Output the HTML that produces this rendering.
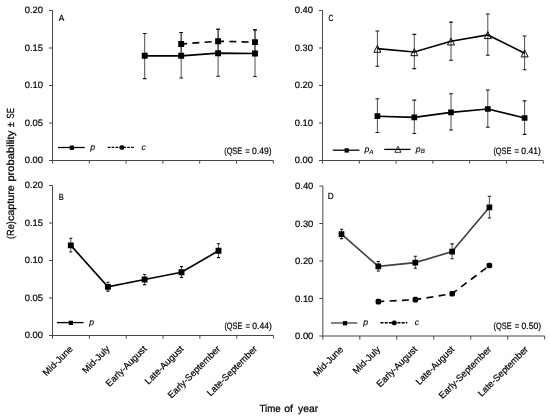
<!DOCTYPE html>
<html lang="en"><head><meta charset="utf-8"><title>(Re)capture probability by time of year</title>
<style>html,body{margin:0;padding:0;background:#fff}svg{display:block}text{text-rendering:geometricPrecision}.t{font-family:"Liberation Sans", sans-serif;font-size:9.3px;fill:#000;stroke:#000;stroke-width:0.2px}.p{font-family:"Liberation Sans", sans-serif;font-size:8.9px;fill:#000;stroke:#000;stroke-width:0.2px}.l{font-family:"Liberation Sans", sans-serif;font-size:10.3px;fill:#000;stroke:#000;stroke-width:0.24px}.i{font-family:"Liberation Sans", sans-serif;font-size:8.6px;font-style:italic;fill:#000;stroke:#000;stroke-width:0.15px}.s{font-family:"Liberation Sans", sans-serif;font-size:6.2px;font-style:italic;fill:#000;stroke:#000;stroke-width:0.1px}</style></head><body>
<svg width="550" height="420" viewBox="0 0 550 420">
<rect width="550" height="420" fill="#fff"/>
<path d="M52.5 10.5V163.7M49 160.5H273.3" fill="none" stroke="#484848" stroke-width="1.0"/>
<text transform="translate(43 13.3) scale(1.01 1)" text-anchor="end" class="t">0.20</text>
<text transform="translate(43 50.8) scale(1.01 1)" text-anchor="end" class="t">0.15</text>
<text transform="translate(43 88.3) scale(1.01 1)" text-anchor="end" class="t">0.10</text>
<text transform="translate(43 125.8) scale(1.01 1)" text-anchor="end" class="t">0.05</text>
<text transform="translate(43 163.3) scale(1.01 1)" text-anchor="end" class="t">0.00</text>
<path d="M49 10.5H52.5M49 48H52.5M49 85.5H52.5M49 123H52.5M89.3 160.5V163.7M126.1 160.5V163.7M162.9 160.5V163.7M199.7 160.5V163.7M236.5 160.5V163.7M273.3 160.5V163.7" fill="none" stroke="#484848" stroke-width="1.0"/>
<text transform="translate(58.85 21.3) scale(0.93 1)" class="p">A</text>
<path d="M144.7 33.5V78.6M181.2 32.5V78M218.1 29.2V76.2M255 29.9V76.5" fill="none" stroke="#303030" stroke-width="0.85"/>
<path d="M142.9 33.5H146.5M142.9 78.6H146.5M179.4 32.5H183M179.4 78H183M216.3 29.2H219.9M216.3 76.2H219.9M253.2 29.9H256.8M253.2 76.5H256.8" fill="none" stroke="#111" stroke-width="1.1"/>
<path d="M181.2 32.5V56M218.1 29.2V54M255 29.9V54" fill="none" stroke="#303030" stroke-width="0.85"/>
<path d="M179.4 32.5H183M179.4 56H183M216.3 29.2H219.9M216.3 54H219.9M253.2 29.9H256.8M253.2 54H256.8" fill="none" stroke="#111" stroke-width="1.1"/>
<path d="M181.2 44L218.1 41.3M218.1 41.3L255 42.1" fill="none" stroke="#000" stroke-width="1.65" stroke-dasharray="7 5.3" stroke-dashoffset="1.1"/>
<path d="M144.7 55.8L181.2 55.8L218.1 53.2L255 53.5" fill="none" stroke="#000" stroke-width="1.65"/>
<path d="M141.75 52.85h5.9v5.9h-5.9zM178.25 52.85h5.9v5.9h-5.9zM215.15 50.25h5.9v5.9h-5.9zM252.05 50.55h5.9v5.9h-5.9z" fill="#000"/>
<path d="M178.25 41.05h5.9v5.9h-5.9zM215.15 38.35h5.9v5.9h-5.9zM252.05 39.15h5.9v5.9h-5.9z" fill="#000"/>
<path d="M58 147.5L84.7 147.5" fill="none" stroke="#000" stroke-width="1.3"/>
<path d="M69.75 145.55h4.3v4.3h-4.3z" fill="#000"/>
<text transform="translate(90.3 150.2) scale(1.01 1)" class="i">p</text>
<path d="M107.7 147.4L134.8 147.4" fill="none" stroke="#000" stroke-width="1.3" stroke-dasharray="2.7 1.2" stroke-dashoffset="0"/>
<rect x="119.6" y="145.2" width="4.6" height="4.6" rx="1.6" fill="#000"/>
<text transform="translate(141.5 150) scale(1.01 1)" class="i">c</text>
<text class="t" y="153.7"><tspan x="224.2" textLength="18" lengthAdjust="spacingAndGlyphs">(QSE</tspan> <tspan x="245.3" textLength="4.6" lengthAdjust="spacingAndGlyphs">=</tspan> <tspan x="252.1" textLength="19.5" lengthAdjust="spacingAndGlyphs">0.49)</tspan></text>
<path d="M52.5 185.5V338.7M49 335.5H273.6" fill="none" stroke="#484848" stroke-width="1.0"/>
<text transform="translate(43 188.3) scale(1.01 1)" text-anchor="end" class="t">0.20</text>
<text transform="translate(43 225.8) scale(1.01 1)" text-anchor="end" class="t">0.15</text>
<text transform="translate(43 263.3) scale(1.01 1)" text-anchor="end" class="t">0.10</text>
<text transform="translate(43 300.8) scale(1.01 1)" text-anchor="end" class="t">0.05</text>
<text transform="translate(43 338.3) scale(1.01 1)" text-anchor="end" class="t">0.00</text>
<path d="M49 185.5H52.5M49 223H52.5M49 260.5H52.5M49 298H52.5M89.35 335.5V338.7M126.2 335.5V338.7M163.05 335.5V338.7M199.9 335.5V338.7M236.75 335.5V338.7M273.6 335.5V338.7" fill="none" stroke="#484848" stroke-width="1.0"/>
<text transform="translate(73.52 349.5) rotate(-45)" text-anchor="end" class="t">Mid-June</text>
<text transform="translate(110.38 349.5) rotate(-45)" text-anchor="end" class="t">Mid-July</text>
<text transform="translate(147.22 349.5) rotate(-45)" text-anchor="end" class="t">Early-August</text>
<text transform="translate(184.07 349.5) rotate(-45)" text-anchor="end" class="t">Late-August</text>
<text transform="translate(220.93 349.5) rotate(-45)" text-anchor="end" class="t">Early-September</text>
<text transform="translate(257.78 349.5) rotate(-45)" text-anchor="end" class="t">Late-September</text>
<text transform="translate(58.8 199.9) scale(0.85 1)" class="p">B</text>
<path d="M70.8 238.2V252M107.9 282.3V291.1M144.6 274.5V284.6M181.5 266.6V277.4M218.5 243.8V257.6" fill="none" stroke="#404040" stroke-width="0.9"/>
<path d="M69.2 238.2H72.4M69.2 252H72.4M106.3 282.3H109.5M106.3 291.1H109.5M143 274.5H146.2M143 284.6H146.2M179.9 266.6H183.1M179.9 277.4H183.1M216.9 243.8H220.1M216.9 257.6H220.1" fill="none" stroke="#111" stroke-width="1.1"/>
<path d="M70.8 245.4L107.9 286.9L144.6 279.5L181.5 272.3L218.5 250.8" fill="none" stroke="#000" stroke-width="1.65"/>
<path d="M67.85 242.45h5.9v5.9h-5.9zM104.95 283.95h5.9v5.9h-5.9zM141.65 276.55h5.9v5.9h-5.9zM178.55 269.35h5.9v5.9h-5.9zM215.55 247.85h5.9v5.9h-5.9z" fill="#000"/>
<path d="M56.9 322.6L83.6 322.6" fill="none" stroke="#000" stroke-width="1.3"/>
<path d="M68.7 320.75h4.3v4.3h-4.3z" fill="#000"/>
<text transform="translate(89.2 325) scale(1.01 1)" class="i">p</text>
<text class="t" y="328.7"><tspan x="224.4" textLength="18" lengthAdjust="spacingAndGlyphs">(QSE</tspan> <tspan x="245.5" textLength="4.6" lengthAdjust="spacingAndGlyphs">=</tspan> <tspan x="252.3" textLength="19.5" lengthAdjust="spacingAndGlyphs">0.44)</tspan></text>
<path d="M322.5 10.5V163.7M319 160.5H543.3" fill="none" stroke="#484848" stroke-width="1.0"/>
<text transform="translate(313 13.3) scale(1.01 1)" text-anchor="end" class="t">0.40</text>
<text transform="translate(313 50.8) scale(1.01 1)" text-anchor="end" class="t">0.30</text>
<text transform="translate(313 88.3) scale(1.01 1)" text-anchor="end" class="t">0.20</text>
<text transform="translate(313 125.8) scale(1.01 1)" text-anchor="end" class="t">0.10</text>
<text transform="translate(313 163.3) scale(1.01 1)" text-anchor="end" class="t">0.00</text>
<path d="M319 10.5H322.5M319 48H322.5M319 85.5H322.5M319 123H322.5M359.3 160.5V163.7M396.1 160.5V163.7M432.9 160.5V163.7M469.7 160.5V163.7M506.5 160.5V163.7M543.3 160.5V163.7" fill="none" stroke="#484848" stroke-width="1.0"/>
<text transform="translate(328.4 21.3) scale(0.76 1)" class="p">C</text>
<path d="M377.4 31V66.2M414.3 34.4V68.6M451 22.1V60.2M487.8 14V55.3M524.6 36V69.8" fill="none" stroke="#222" stroke-width="0.8"/>
<path d="M375.5 31H379.3M375.5 66.2H379.3M412.4 34.4H416.2M412.4 68.6H416.2M449.1 22.1H452.9M449.1 60.2H452.9M485.9 14H489.7M485.9 55.3H489.7M522.7 36H526.5M522.7 69.8H526.5" fill="none" stroke="#111" stroke-width="1.1"/>
<path d="M377.4 98.8V132.5M414.3 100.1V133.5M451 93.8V130M487.8 90V127.2M524.6 100.9V134.4" fill="none" stroke="#222" stroke-width="0.8"/>
<path d="M375.5 98.8H379.3M375.5 132.5H379.3M412.4 100.1H416.2M412.4 133.5H416.2M449.1 93.8H452.9M449.1 130H452.9M485.9 90H489.7M485.9 127.2H489.7M522.7 100.9H526.5M522.7 134.4H526.5" fill="none" stroke="#111" stroke-width="1.1"/>
<path d="M377.4 48.6L414.3 52L451 41.3L487.8 34.9L524.6 53.2" fill="none" stroke="#000" stroke-width="1.65"/>
<path d="M377.4 116.2L414.3 117.4L451 112.4L487.8 109L524.6 118" fill="none" stroke="#000" stroke-width="1.65"/>
<path d="M377.4 45.3L380.9 52.3H373.9zM414.3 48.7L417.8 55.7H410.8zM451 38L454.5 45H447.5zM487.8 31.6L491.3 38.6H484.3zM524.6 49.9L528.1 56.9H521.1z" fill="none" stroke="#000" stroke-width="0.95"/>
<path d="M374.55 113.35h5.7v5.7h-5.7zM411.45 114.55h5.7v5.7h-5.7zM448.15 109.55h5.7v5.7h-5.7zM484.95 106.15h5.7v5.7h-5.7zM521.75 115.15h5.7v5.7h-5.7z" fill="#000"/>
<path d="M332.8 150.2L359.4 150.2" fill="none" stroke="#000" stroke-width="1.3"/>
<path d="M344.55 148.3h4.3v4.3h-4.3z" fill="#000"/>
<text transform="translate(364.5 151.9) scale(1.01 1)" class="i">p</text>
<text transform="translate(369.3 153.6) scale(1.01 1)" class="s">A</text>
<path d="M384.2 149.4L410.5 149.4" fill="none" stroke="#000" stroke-width="1.3"/>
<path d="M397.9 146.3L401 152.3H394.8z" fill="none" stroke="#000" stroke-width="0.8"/>
<text transform="translate(415.8 151.7) scale(1.01 1)" class="i">p</text>
<text transform="translate(420.7 153.4) scale(1.01 1)" class="s">B</text>
<text class="t" y="153.7"><tspan x="493.4" textLength="18" lengthAdjust="spacingAndGlyphs">(QSE</tspan> <tspan x="514.5" textLength="4.6" lengthAdjust="spacingAndGlyphs">=</tspan> <tspan x="521.3" textLength="19.5" lengthAdjust="spacingAndGlyphs">0.41)</tspan></text>
<path d="M322.85 186V339.6M319.35 336H544.7" fill="none" stroke="#484848" stroke-width="1.0"/>
<text transform="translate(313.35 189) scale(1.01 1)" text-anchor="end" class="t">0.40</text>
<text transform="translate(313.35 226.5) scale(1.01 1)" text-anchor="end" class="t">0.30</text>
<text transform="translate(313.35 264) scale(1.01 1)" text-anchor="end" class="t">0.20</text>
<text transform="translate(313.35 301.5) scale(1.01 1)" text-anchor="end" class="t">0.10</text>
<text transform="translate(313.35 339) scale(1.01 1)" text-anchor="end" class="t">0.00</text>
<path d="M319.35 186H322.85M319.35 223.5H322.85M319.35 261H322.85M319.35 298.5H322.85M359.83 336V339.6M396.8 336V339.6M433.78 336V339.6M470.75 336V339.6M507.73 336V339.6M544.7 336V339.6" fill="none" stroke="#484848" stroke-width="1.0"/>
<text transform="translate(343.94 350) rotate(-45)" text-anchor="end" class="t">Mid-June</text>
<text transform="translate(380.91 350) rotate(-45)" text-anchor="end" class="t">Mid-July</text>
<text transform="translate(417.89 350) rotate(-45)" text-anchor="end" class="t">Early-August</text>
<text transform="translate(454.86 350) rotate(-45)" text-anchor="end" class="t">Late-August</text>
<text transform="translate(491.84 350) rotate(-45)" text-anchor="end" class="t">Early-September</text>
<text transform="translate(528.81 350) rotate(-45)" text-anchor="end" class="t">Late-September</text>
<text transform="translate(327.8 198.6) scale(0.93 1)" class="p">D</text>
<path d="M341.5 229.3V238.6M378.3 261.5V271M415.3 256.3V268.2M452.1 243.9V258.7M489.4 196.2V218" fill="none" stroke="#404040" stroke-width="0.9"/>
<path d="M339.9 229.3H343.1M339.9 238.6H343.1M376.7 261.5H379.9M376.7 271H379.9M413.7 256.3H416.9M413.7 268.2H416.9M450.5 243.9H453.7M450.5 258.7H453.7M487.8 196.2H491M487.8 218H491" fill="none" stroke="#111" stroke-width="1.1"/>
<path d="M341.5 234.1L378.3 266.4L415.3 262.6L452.1 251.6L489.4 207.3" fill="none" stroke="#404040" stroke-width="1.6"/>
<path d="M378.4 301.6L415.4 299.6M415.4 299.6L452.2 293.7M452.2 293.7L489.4 265.5" fill="none" stroke="#000" stroke-width="1.65" stroke-dasharray="7 5.3" stroke-dashoffset="1.1"/>
<path d="M338.65 231.25h5.7v5.7h-5.7zM375.45 263.55h5.7v5.7h-5.7zM412.45 259.75h5.7v5.7h-5.7zM449.25 248.75h5.7v5.7h-5.7zM486.55 204.45h5.7v5.7h-5.7z" fill="#000"/>
<rect x="375.6" y="298.8" width="5.6" height="5.6" rx="1.7" fill="#000"/>
<rect x="412.6" y="296.8" width="5.6" height="5.6" rx="1.7" fill="#000"/>
<rect x="449.4" y="290.9" width="5.6" height="5.6" rx="1.7" fill="#000"/>
<rect x="486.6" y="262.7" width="5.6" height="5.6" rx="1.7" fill="#000"/>
<path d="M331 323L357.5 323" fill="none" stroke="#404040" stroke-width="1.3"/>
<path d="M342.85 321.05h4.3v4.3h-4.3z" fill="#000"/>
<text transform="translate(363.3 325.1) scale(1.01 1)" class="i">p</text>
<path d="M380.4 322.8L407.3 322.8" fill="none" stroke="#000" stroke-width="1.5" stroke-dasharray="3.1 1.15" stroke-dashoffset="0"/>
<rect x="392" y="320.6" width="4.6" height="4.6" rx="1.6" fill="#000"/>
<text transform="translate(414.7 325.1) scale(1.01 1)" class="i">c</text>
<text class="t" y="328.7"><tspan x="493.6" textLength="18" lengthAdjust="spacingAndGlyphs">(QSE</tspan> <tspan x="514.7" textLength="4.6" lengthAdjust="spacingAndGlyphs">=</tspan> <tspan x="521.5" textLength="19.5" lengthAdjust="spacingAndGlyphs">0.50)</tspan></text>
<text transform="translate(13.8 238.5) rotate(-90)" class="l"><tspan x="-0.5" textLength="17.8" lengthAdjust="spacingAndGlyphs">(Re)</tspan><tspan x="17.4" textLength="36" lengthAdjust="spacingAndGlyphs">capture</tspan> <tspan x="56.9" textLength="50.9" lengthAdjust="spacingAndGlyphs">probability</tspan> <tspan x="111.2" textLength="5.1" lengthAdjust="spacingAndGlyphs">±</tspan> <tspan x="120.1" textLength="10.4" lengthAdjust="spacingAndGlyphs">SE</tspan></text>
<text y="411.8" class="l"><tspan x="259.5" textLength="21.2" lengthAdjust="spacingAndGlyphs">Time</tspan> <tspan x="284.2" textLength="8.8" lengthAdjust="spacingAndGlyphs">of</tspan> <tspan x="298.0" textLength="20.1" lengthAdjust="spacingAndGlyphs">year</tspan></text>
</svg></body></html>
